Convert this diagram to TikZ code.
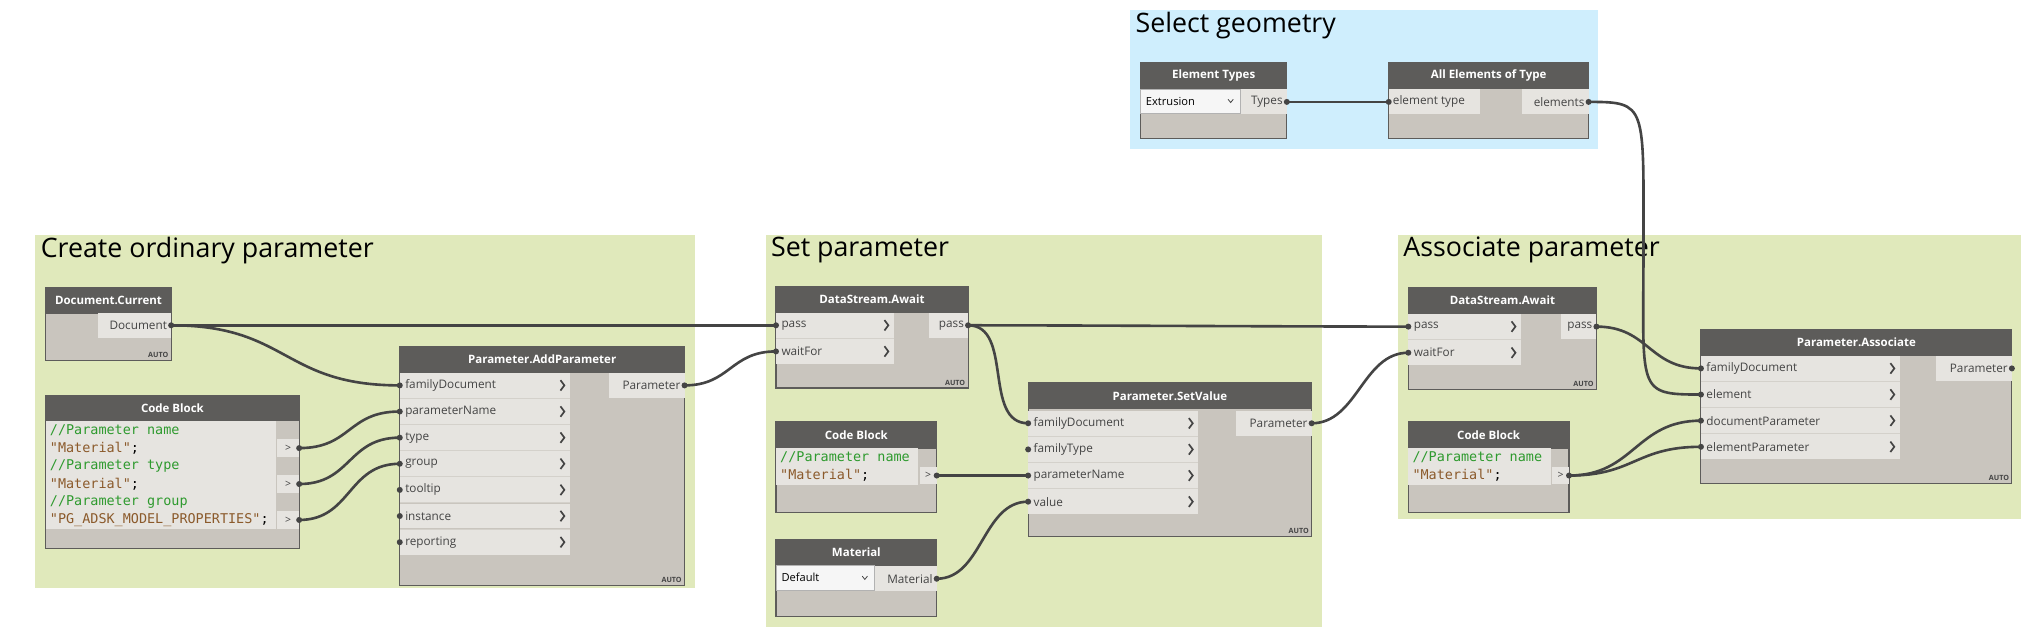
\documentclass[tikz,border=0pt]{standalone}
\usepackage{fontspec}
\setmainfont{Open Sans}
\newfontfamily\codefont{DejaVu Sans Mono}
\definecolor{hdr}{HTML}{5D5C5A}
\definecolor{bdy}{HTML}{C9C5BE}
\definecolor{rowc}{HTML}{E6E4E0}
\definecolor{grpg}{HTML}{E0E9BB}
\definecolor{grpb}{HTML}{CFEEFD}
\definecolor{wire}{HTML}{444444}
\definecolor{cgreen}{HTML}{2E9A2E}
\definecolor{cbrown}{HTML}{8B5A2B}
\definecolor{rowtxt}{HTML}{444444}
\tikzset{
  grp/.style={fill=grpg, draw=none},
  bodyst/.style={fill=bdy, draw=hdr, line width=0.8pt},
  hdrst/.style={fill=hdr, draw=hdr, line width=0.8pt},
  rowst/.style={fill=rowc, draw=none},
  lbl/.style={font=\fontsize{9}{11}\selectfont, text=rowtxt, inner sep=2pt},
  ttl/.style={font=\fontsize{8.8}{10}\selectfont\bfseries, text=white},
  auto/.style={font=\fontsize{5.5}{6}\selectfont\bfseries, text=rowtxt, anchor=south east, inner sep=1pt},
  gttl/.style={font=\fontsize{20.5}{24}\selectfont, anchor=north west, inner sep=0pt},
  code/.style={font=\codefont\fontsize{10.3}{12}\selectfont, anchor=west, inner sep=0pt},
  wr/.style={draw=wire, line width=2pt},
  dot/.style={fill=wire},
}
% node: name, x1, y1, x2, header bottom, y2, title
\newcommand\dnode[7]{%
  \fill[bodyst] (#2,#3) rectangle (#4,#6);
  \fill[hdrst] (#2,#3) rectangle (#4,#5);
  \node[ttl] (#1) at ({(#2+#4)/2},{(#3+#5)/2}) {#7};
  \draw[hdr, line width=0.8pt] (#2,#3) rectangle (#4,#6);
}
% input row: name, x1, yc, x2, label
\newcommand\inrow[5]{%
  \fill[rowst] (#2,#3-9.5) rectangle (#4,#3+9.5);
  \node[lbl, anchor=west] at (#2+2,#3) {#5};
  \draw[rowtxt, line width=1.3pt] (#4-7,#3-4) -- (#4-4,#3) -- (#4-7,#3+4);
  \coordinate (#1) at (#2,#3);
  \fill[dot] (#2,#3) circle (2.3);
}
% plain input row without chevron
\newcommand\inrowp[5]{%
  \fill[rowst] (#2,#3-9.5) rectangle (#4,#3+9.5);
  \node[lbl, anchor=west] at (#2+1,#3) {#5};
  \coordinate (#1) at (#2,#3);
  \fill[dot] (#2,#3) circle (2.3);
}
% output row: name, x1, yc, x2, label
\newcommand\outrow[5]{%
  \fill[rowst] (#2,#3-9.5) rectangle (#4,#3+9.5);
  \node[lbl, anchor=east] at (#4-1,#3) {#5};
  \coordinate (#1) at (#4,#3);
  \fill[dot] (#4,#3) circle (2.3);
}
% code output: name, x1, yc, x2
\newcommand\cout[4]{%
  \fill[rowst] (#2,#3-6.8) rectangle (#4,#3+6.8);
  \node[lbl, anchor=center, font=\fontsize{8}{9}\selectfont] at ({(#2+#4)/2},#3) {>};
  \coordinate (#1) at (#4,#3);
  \fill[dot] (#4,#3) circle (2.3);
}
\newcommand\wire[3]{\draw[wr] (#1) .. controls +(#3,0) and +(-#3,0) .. (#2);}
\begin{document}
\begin{tikzpicture}[x=1pt,y=-1pt]
\useasboundingbox (0,0) rectangle (1560,487);
% groups
\fill[grpb] (865,8) rectangle (1223,114);
\node[gttl] at (869,9) {Select geometry};
\fill[grp] (27,180) rectangle (532,450);
\node[gttl] at (31,181) {Create ordinary parameter};
\fill[grp] (586,180) rectangle (1012,480);
\node[gttl] at (590,181) {Set parameter};
\fill[grp] (1070,180) rectangle (1547,397);
\node[gttl] at (1074,181) {Associate parameter};

% Select geometry
\dnode{et}{873}{48}{985}{68}{106}{Element Types}
\fill[white!93!gray, draw=gray!60] (873,68) rectangle (949,87);
\node[lbl, anchor=west, text=black, font=\fontsize{8.5}{10}\selectfont] at (875,77.5) {Extrusion};
\draw[rowtxt, line width=0.6pt] (940,76) -- (942,78.5) -- (944,76);
\outrow{etout}{950}{78}{985}{Types}
\dnode{ae}{1063}{48}{1216}{68}{106}{All Elements of Type}
\inrowp{aein}{1063}{78}{1133}{element type}
\outrow{aeout}{1165}{78}{1216}{elements}

% Create ordinary parameter
\dnode{dc}{35}{220}{131}{240}{276}{Document.Current}
\outrow{dcout}{75}{249}{131}{Document}
\node[auto] at (130,275) {AUTO};

\dnode{cb1}{35}{303}{229}{322}{420}{Code Block}
\fill[rowst] (35,322) rectangle (211,405);
\node[code, text=cgreen] at (38,329) {//Parameter name};
\node[code, text=cbrown] at (38,343) {"Material"\textcolor{black}{;}};
\node[code, text=cgreen] at (38,357) {//Parameter type};
\node[code, text=cbrown] at (38,370.5) {"Material"\textcolor{black}{;}};
\node[code, text=cgreen] at (38,384) {//Parameter group};
\node[code, text=cbrown] at (38,398) {"PG\_ADSK\_MODEL\_PROPERTIES"\textcolor{black}{;}};
\cout{cb1a}{212}{343}{229}
\cout{cb1b}{212}{370.5}{229}
\cout{cb1c}{212}{398}{229}

\dnode{ap}{306}{265}{524}{285}{448}{Parameter.AddParameter}
\inrow{apfd}{306}{295}{436}{familyDocument}
\inrow{appn}{306}{315}{436}{parameterName}
\inrow{apty}{306}{335}{436}{type}
\inrow{apgr}{306}{355}{436}{group}
\inrow{aptt}{306}{375}{436}{tooltip}
\inrow{apin}{306}{395}{436}{instance}
\inrow{aprp}{306}{415}{436}{reporting}
\foreach \yy in {305,325,345,365,385,405} \draw[bdy!80!white, line width=0.8pt] (306,\yy) -- (436,\yy);
\outrow{apout}{466}{295}{524}{Parameter}
\node[auto] at (523,447) {AUTO};

% Set parameter
\dnode{ds1}{594}{219}{741}{239}{297}{DataStream.Await}
\inrow{ds1pass}{594}{249}{684}{pass}
\inrow{ds1wait}{594}{269}{684}{waitFor}
\draw[bdy!80!white, line width=0.8pt] (594,259) -- (684,259);
\outrow{ds1out}{711}{249}{741}{pass}
\node[auto] at (740,296) {AUTO};

\dnode{sv}{787}{293}{1004}{313}{411}{Parameter.SetValue}
\inrow{svfd}{787}{324}{917}{familyDocument}
\inrow{svft}{787}{344}{917}{familyType}
\inrow{svpn}{787}{364}{917}{parameterName}
\inrow{svva}{787}{384}{917}{value}
\foreach \yy in {334,354,374} \draw[bdy!80!white, line width=0.8pt] (787,\yy) -- (917,\yy);
\outrow{svout}{946}{324}{1004}{Parameter}
\node[auto] at (1003,410) {AUTO};

\dnode{cb2}{594}{323}{717}{343}{392}{Code Block}
\fill[rowst] (594,343) rectangle (703,371);
\node[code, text=cgreen] at (597,350) {//Parameter name};
\node[code, text=cbrown] at (597,364) {"Material"\textcolor{black}{;}};
\cout{cb2a}{704}{364}{717}

\dnode{mt}{594}{413}{717}{433}{472}{Material}
\fill[white!93!gray, draw=gray!60] (594,433) rectangle (669,452);
\node[lbl, anchor=west, text=black, font=\fontsize{8.5}{10}\selectfont] at (596,442) {Default};
\draw[rowtxt, line width=0.6pt] (660,441) -- (662,443.5) -- (664,441);
\outrow{mtout}{670}{443}{717}{Material}

% Associate parameter
\dnode{ds2}{1078}{220}{1222}{240}{298}{DataStream.Await}
\inrow{ds2pass}{1078}{250}{1164}{pass}
\inrow{ds2wait}{1078}{270}{1164}{waitFor}
\draw[bdy!80!white, line width=0.8pt] (1078,260) -- (1164,260);
\outrow{ds2out}{1195}{250}{1222}{pass}
\node[auto] at (1221,297) {AUTO};

\dnode{pa}{1302}{252}{1540}{272}{370}{Parameter.Associate}
\inrow{pafd}{1302}{282}{1454}{familyDocument}
\inrow{pael}{1302}{302}{1454}{element}
\inrow{padp}{1302}{322}{1454}{documentParameter}
\inrow{paep}{1302}{342}{1454}{elementParameter}
\foreach \yy in {292,312,332} \draw[bdy!80!white, line width=0.8pt] (1302,\yy) -- (1454,\yy);
\outrow{paout}{1482}{282}{1540}{Parameter}
\node[auto] at (1539,369) {AUTO};

\dnode{cb3}{1078}{323}{1201}{343}{392}{Code Block}
\fill[rowst] (1078,343) rectangle (1187,371);
\node[code, text=cgreen] at (1081,350) {//Parameter name};
\node[code, text=cbrown] at (1081,364) {"Material"\textcolor{black}{;}};
\cout{cb3a}{1188}{364}{1201}

% wires
\wire{etout}{aein}{30}
\wire{dcout}{ds1pass}{80}
\wire{dcout}{apfd}{90}
\wire{cb1a}{appn}{40}
\wire{cb1b}{apty}{40}
\wire{cb1c}{apgr}{40}
\wire{apout}{ds1wait}{35}
\wire{ds1out}{ds2pass}{80}
\draw[wr] (ds1out) .. controls +(35,0) and +(-35,0) .. (svfd);
\wire{cb2a}{svpn}{30}
\wire{mtout}{svva}{35}
\wire{svout}{ds2wait}{35}
\wire{ds2out}{pafd}{40}
\coordinate (ebend) at (1258,190);
\draw[wr] (aeout) .. controls +(45,0) and +(0,-110) .. (ebend) .. controls +(0,110) and +(-50,0) .. (pael);
\wire{cb3a}{padp}{50}
\wire{cb3a}{paep}{50}
\end{tikzpicture}
\end{document}
